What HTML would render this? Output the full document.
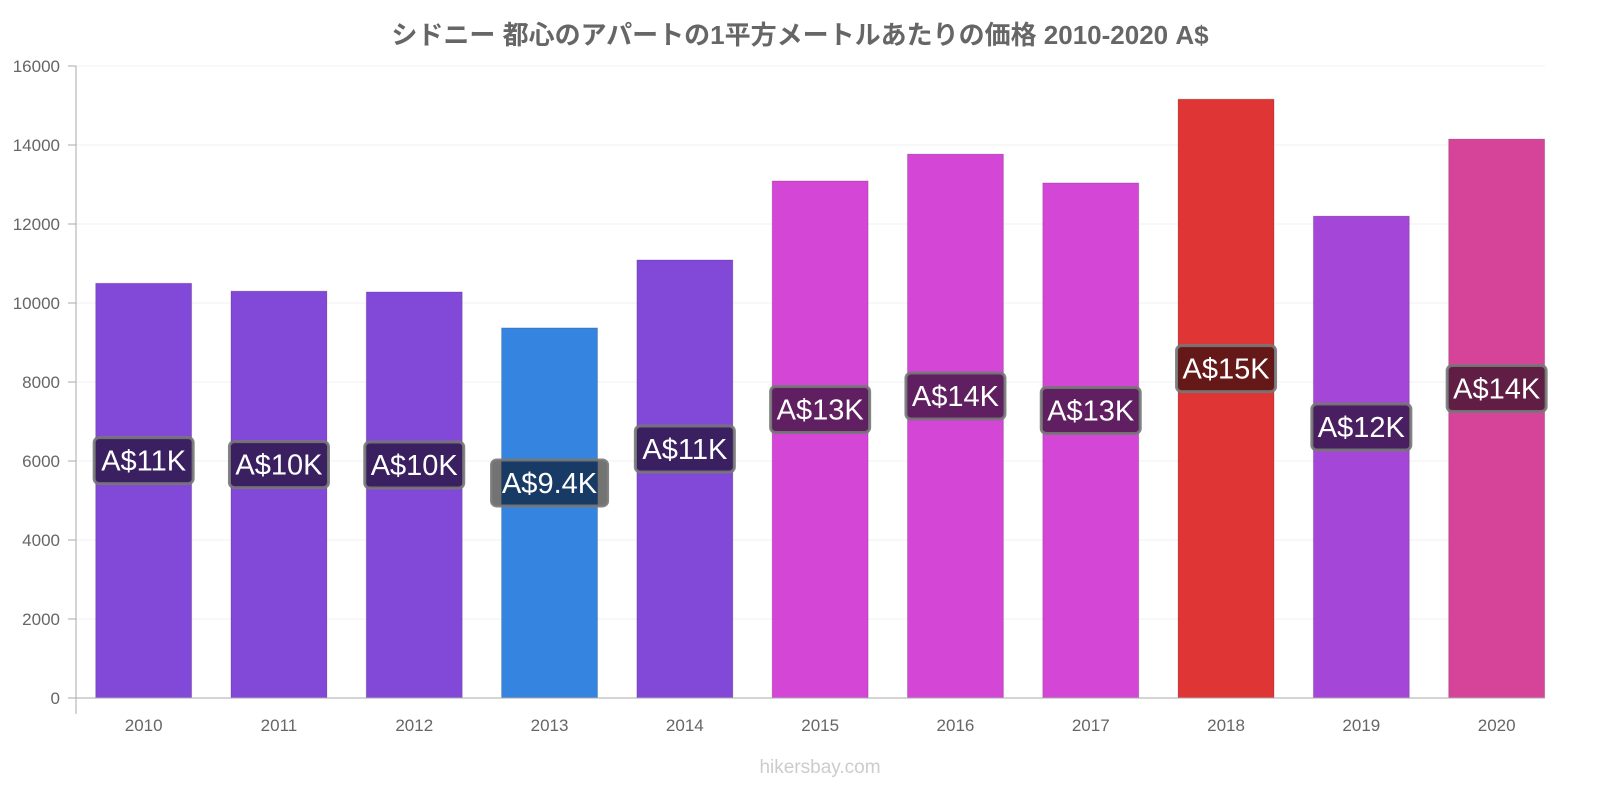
<!DOCTYPE html>
<html style="margin:0;padding:0;overflow:hidden;width:1600px;height:800px;"><head><meta charset="utf-8">
<style>
html,body{margin:0;padding:0;}
body{background:#fff;width:1600px;height:800px;overflow:hidden;font-family:"Liberation Sans","Noto Sans CJK JP",sans-serif;}
svg{display:block;width:1600px;height:800px;}
</style></head>
<body>
<svg id="chart" width="1600" height="800" viewBox="0 0 1600 800" xmlns="http://www.w3.org/2000/svg">
<text x="800" y="44" text-anchor="middle" font-size="26" font-weight="bold" fill="#666" font-family="Liberation Sans, Noto Sans CJK JP, sans-serif">シドニー 都心のアパートの1平方メートルあたりの価格 2010-2020 A$</text>
<g id="grid"></g><g id="bars"></g><g id="labels"></g><g id="axes"></g>
<text x="820" y="773" text-anchor="middle" font-size="19" fill="#ccc">hikersbay.com</text>
</svg>
<script>
const categories=["2010","2011","2012","2013","2014","2015","2016","2017","2018","2019","2020"];
const values=[10500,10300,10280,9370,11090,13090,13770,13040,15160,12200,14150];
const valueLabels=["A$11K","A$10K","A$10K","A$9.4K","A$11K","A$13K","A$14K","A$13K","A$15K","A$12K","A$14K"];
const barColors=["#8248d8","#8248d8","#8248d8","#3584e0","#8248d8","#d346d6","#d346d6","#d346d6","#e03535","#a446d8","#d6449a"];
const yTicks=[0,2000,4000,6000,8000,10000,12000,14000,16000];
const NS="http://www.w3.org/2000/svg";
const x0=76,band=135.3,y0=698,yTop=66,yMax=16000;
const y=v=>y0-(v/yMax)*(y0-yTop);
const xc=i=>x0+band*(i+0.5);
function mk(tag,attrs,parent){const e=document.createElementNS(NS,tag);for(const k in attrs)e.setAttribute(k,attrs[k]);parent.appendChild(e);return e;}
const grid=document.getElementById('grid'),bars=document.getElementById('bars'),labels=document.getElementById('labels'),axes=document.getElementById('axes');
yTicks.forEach(t=>{
 const l=mk('line',{x1:x0,x2:1545,y1:y(t),y2:y(t),stroke:'#f2f2f2'},grid);
 
 
 const tk=mk('line',{x1:68,x2:76,y1:y(t),y2:y(t),stroke:'#aaa'},axes);
 
 
 const tx=mk('text',{x:60,y:y(t)+6,'text-anchor':'end','font-size':17,fill:'#666'},axes);
 tx.textContent=t;
 
 
});
const ax=mk('line',{x1:76,x2:76,y1:66,y2:714,stroke:'#aaa'},axes);


const bx=mk('line',{x1:76,x2:1545,y1:y0,y2:y0,stroke:'#aaa'},axes);


categories.forEach((c,i)=>{
 const w=96,top=y(values[i]);
 const r=mk('rect',{x:xc(i)-w/2,y:top,width:w,height:y0-top,fill:barColors[i],stroke:'rgba(0,0,0,0.15)'},bars);
 
 
 const tx=mk('text',{x:xc(i),y:731,'text-anchor':'middle','font-size':17,fill:'#666'},axes);
 tx.textContent=c;
 
 
 const cy=(top+y0)/2-30;
 const lw=valueLabels[i].length*17+14;
 const g=mk('g',{},labels);
 
 
 mk('rect',{x:xc(i)-lw/2,y:cy-23,width:lw,height:46,rx:5,fill:'rgba(0,0,0,0.55)',stroke:'rgba(120,120,120,0.9)','stroke-width':3},g);
 const t=mk('text',{x:xc(i),y:cy+10,'text-anchor':'middle','font-size':29,fill:'#fff'},g);
 t.textContent=valueLabels[i];
});
</script>
</body></html>
